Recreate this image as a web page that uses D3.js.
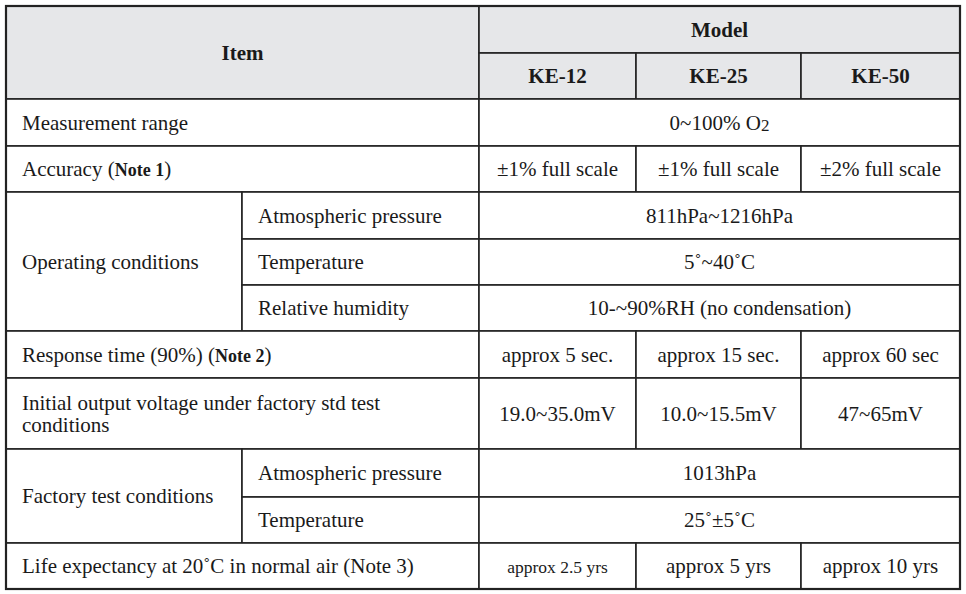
<!DOCTYPE html>
<html><head><meta charset="utf-8">
<script src="https://cdn.jsdelivr.net/npm/d3@7"></script>
<style>body{margin:0;background:#fff}</style></head>
<body><svg id="c" width="966" height="594"></svg>
<script>
// content: [rowStart,rowEnd,colStart,colEnd,segments,align,size]
const header = [
  [0,2,0,2,[["Item",1]]],
  [0,1,2,5,[["Model",1]]],
  [1,2,2,3,[["KE-12",1]]],
  [1,2,3,4,[["KE-25",1]]],
  [1,2,4,5,[["KE-50",1]]]
];
const body = [
  [2,3,0,2,[["Measurement range",0]],"l"],
  [2,3,2,5,[["0~100% O",0],["2",0,"sub"]]],
  [3,4,0,2,[["Accuracy (",0],["Note 1",1],[")",0]],"l"],
  [3,4,2,3,[["±1% full scale",0]]],
  [3,4,3,4,[["±1% full scale",0]]],
  [3,4,4,5,[["±2% full scale",0]]],
  [4,7,0,1,[["Operating conditions",0]],"l"],
  [4,5,1,2,[["Atmospheric pressure",0]],"l"],
  [4,5,2,5,[["811hPa~1216hPa",0]]],
  [5,6,1,2,[["Temperature",0]],"l"],
  [5,6,2,5,[["5˚~40˚C",0]]],
  [6,7,1,2,[["Relative humidity",0]],"l"],
  [6,7,2,5,[["10-~90%RH (no condensation)",0]]],
  [7,8,0,2,[["Response time (90%) (",0],["Note 2",1],[")",0]],"l"],
  [7,8,2,3,[["approx 5 sec.",0]]],
  [7,8,3,4,[["approx 15 sec.",0]]],
  [7,8,4,5,[["approx 60 sec",0]]],
  [8,9,0,2,[["Initial output voltage under factory std test",0]],"l2",null,"conditions"],
  [8,9,2,3,[["19.0~35.0mV",0]]],
  [8,9,3,4,[["10.0~15.5mV",0]]],
  [8,9,4,5,[["47~65mV",0]]],
  [9,11,0,1,[["Factory test conditions",0]],"l"],
  [9,10,1,2,[["Atmospheric pressure",0]],"l"],
  [9,10,2,5,[["1013hPa",0]]],
  [10,11,1,2,[["Temperature",0]],"l"],
  [10,11,2,5,[["25˚±5˚C",0]]],
  [11,12,0,2,[["Life expectancy at 20˚C in normal air (Note 3)",0]],"l"],
  [11,12,2,3,[["approx 2.5 yrs",0]],"c",17.5],
  [11,12,3,4,[["approx 5 yrs",0]]],
  [11,12,4,5,[["approx 10 yrs",0]]]
];
// layout
const rowEdges=[6,53,99,146,192,239,285,331,378,449,497,543,589];
const colEdges=[6,242,479,636,801,960];
const svg=d3.select("#c");
const y=i=>rowEdges[i], x=i=>colEdges[i];
const font="Liberation Serif, Times New Roman, serif";
const all=header.map(d=>({d,h:1})).concat(body.map(d=>({d,h:0})));
svg.selectAll("rect.cell").data(all).join("rect")
  .attr("x",o=>x(o.d[2])).attr("y",o=>y(o.d[0]))
  .attr("width",o=>x(o.d[3])-x(o.d[2])).attr("height",o=>y(o.d[1])-y(o.d[0]))
  .attr("fill",o=>o.h?"#e6e7e9":"#fff").attr("stroke","#222").attr("stroke-width",1.6);
svg.append("rect").attr("x",6).attr("y",6).attr("width",954).attr("height",583)
  .attr("fill","none").attr("stroke","#222").attr("stroke-width",2.2);
all.forEach(o=>{
  const d=o.d, al=d[5]||"c", sz=d[6]||21;
  const x0=x(d[2]), x1=x(d[3]), ym=(y(d[0])+y(d[1]))/2;
  const t=svg.append("text").attr("font-family",font).attr("font-size",sz).attr("fill","#1a1a1a")
    .attr("x",al==="c"?(x0+x1)/2:x0+16).attr("y",al==="l2"?ym-4:ym+7)
    .attr("text-anchor",al==="c"?"middle":"start");
  d[4].forEach(s=>{
    const ts=t.append("tspan").text(s[0]).attr("font-weight",(s[1]||o.h)?"bold":"normal");
    if(o.h) ts.attr("font-size",21);
    if(s[2]==="sub") ts.attr("font-size",17).attr("dy",1);
    if(s[1]&&!o.h) ts.attr("font-size",18);
  });
  if(d[7]) svg.append("text").attr("font-family",font).attr("font-size",sz).attr("fill","#1a1a1a")
    .attr("x",x0+16).attr("y",ym+18).text(d[7]);
});
</script></body></html>
